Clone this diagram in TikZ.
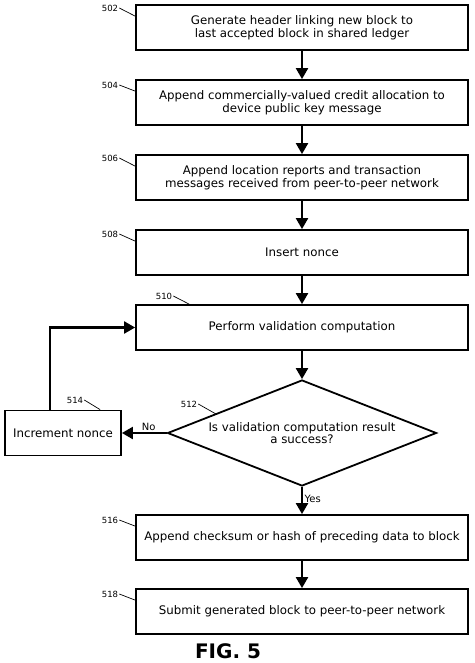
\documentclass[tikz,border=0pt]{standalone}
\usepackage{fontspec}
\setmainfont{DejaVu Sans}
\usetikzlibrary{shapes.geometric,arrows.meta}
\begin{document}
\begin{tikzpicture}[x=1pt,y=-1pt,
  stepbox/.style={draw, line width=1.8pt, minimum width=332pt, minimum height=45pt, align=center, inner sep=0pt, font=\fontsize{11.8}{12.6}\selectfont},
  smallbox/.style={draw, line width=1.8pt, minimum width=116pt, minimum height=45pt, align=center, inner sep=0pt, font=\fontsize{11.8}{12.6}\selectfont},
  decision/.style={draw, diamond, line width=1.8pt, minimum width=269pt, minimum height=106pt, aspect=2.54, align=center, inner sep=0pt, font=\fontsize{11.8}{12.6}\selectfont},
  arr/.style={line width=2.2pt, -{Triangle[length=11pt,width=12pt]}},
  reflabel/.style={font=\fontsize{8.5}{10}\selectfont, inner sep=1pt},
  leader/.style={line width=0.7pt},
  branch/.style={font=\fontsize{10}{12}\selectfont, inner sep=1.5pt}
]
\useasboundingbox (0,0) rectangle (474,663);

\node[stepbox] (b502) at (302,27.5) {Generate header linking new block to\\last accepted block in shared ledger};
\node[stepbox] (b504) at (302,102.5) {Append commercially-valued credit allocation to\\device public key message};
\node[stepbox] (b506) at (302,177.5) {Append location reports and transaction\\messages received from peer-to-peer network};
\node[stepbox] (b508) at (302,252.5) {Insert nonce};
\node[stepbox] (b510) at (302,327.5) {Perform validation computation};
\node[decision] (dia) at (302,433) {Is validation computation result\\a success?};
\node[smallbox] (inc) at (63,433) {Increment nonce};
\node[stepbox] (b516) at (302,537.5) {Append checksum or hash of preceding data to block};
\node[stepbox] (b518) at (302,611.5) {Submit generated block to peer-to-peer network};

\draw[arr] (b502) -- (b504);
\draw[arr] (b504) -- (b506);
\draw[arr] (b506) -- (b508);
\draw[arr] (b508) -- (b510);
\draw[arr] (b510) -- (dia);
\draw[arr] (dia.west) -- node[branch, above, pos=0.4] {No} (inc.east);
\draw[arr] ([xshift=-13pt]inc.north) |- (b510.west);
\draw[arr] (dia.south) -- node[branch, right, pos=0.45] {Yes} (b516.north);
\draw[arr] (b516) -- (b518);

\node[reflabel] (l502) at (110,8) {502};
\node[reflabel] (l504) at (110,85) {504};
\node[reflabel] (l506) at (110,158) {506};
\node[reflabel] (l508) at (110,234) {508};
\node[reflabel] (l510) at (164,296) {510};
\node[reflabel] (l512) at (189,404) {512};
\node[reflabel] (l514) at (75,400) {514};
\node[reflabel] (l516) at (110,520) {516};
\node[reflabel] (l518) at (110,594) {518};

\draw[leader] (l502.east) -- ([yshift=-12pt]b502.north west);
\draw[leader] (l504.east) -- ([yshift=-12pt]b504.north west);
\draw[leader] (l506.east) -- ([yshift=-12pt]b506.north west);
\draw[leader] (l508.east) -- ([yshift=-12pt]b508.north west);
\draw[leader] (l510.east) -- ([xshift=54pt]b510.north west);
\draw[leader] (l512.east) -- (216,414);
\draw[leader] (l514.east) -- ([xshift=96pt]inc.north west);
\draw[leader] (l516.east) -- ([yshift=-12pt]b516.north west);
\draw[leader] (l518.east) -- ([yshift=-12pt]b518.north west);

\node[font=\bfseries\fontsize{20}{23}\selectfont] (fig) at (228,651) {FIG. 5};
\end{tikzpicture}
\end{document}
